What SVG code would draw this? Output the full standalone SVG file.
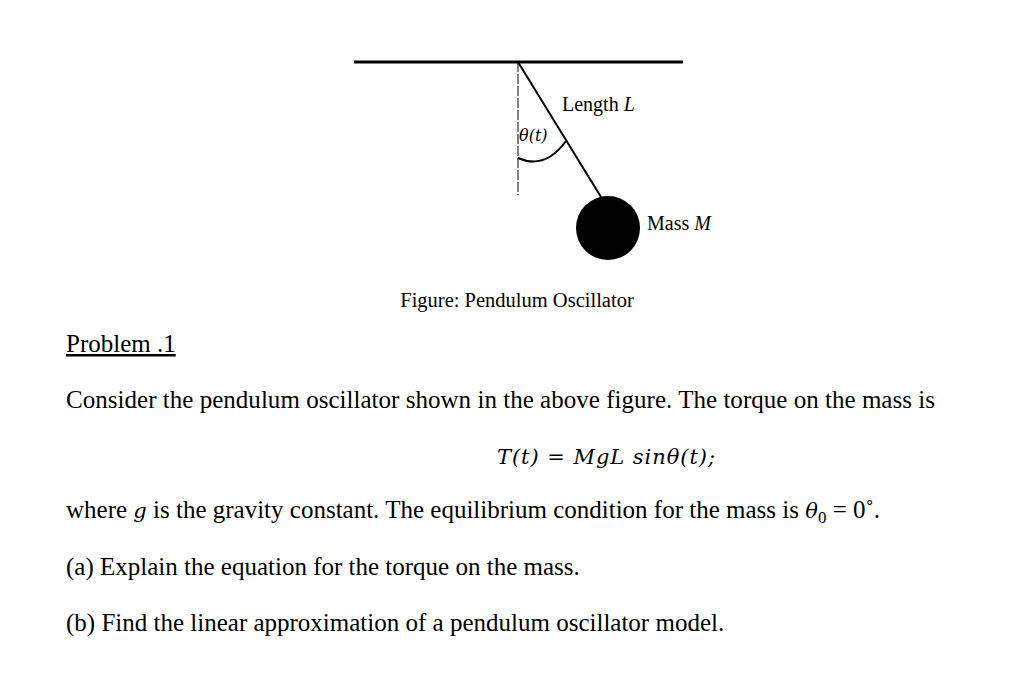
<svg xmlns="http://www.w3.org/2000/svg" width="1024" height="673" viewBox="0 0 1024 673">
<style>
.t{font-family:"Liberation Serif",serif;fill:#000}
.m{font-family:"DejaVu Serif","Liberation Serif",serif;font-style:italic;fill:#000}
.i{font-style:italic}
</style>
<rect width="1024" height="673" fill="#fff"/>
<g id="pendulum">
<line x1="354" y1="62" x2="683" y2="62" stroke="#000" stroke-width="3"/>
<line x1="518" y1="62" x2="518" y2="195" stroke="#000" stroke-width="1" stroke-dasharray="10,2"/>
<line x1="518" y1="62" x2="601" y2="197" stroke="#000" stroke-width="2"/>
<path d="M518,158 Q545,170 566,141" fill="none" stroke="#000" stroke-width="2"/>
<circle cx="608" cy="228" r="32" fill="#000"/>
<text class="m" x="519" y="141" font-size="16">θ(t)</text>
<text class="t" x="562" y="111" font-size="20">Length <tspan class="i">L</tspan></text>
<text class="t" x="647" y="230" font-size="20">Mass <tspan class="i">M</tspan></text>
<text class="t" x="517" y="307" font-size="20.5" text-anchor="middle">Figure: Pendulum Oscillator</text>
</g>
<g id="text">
<text class="t" x="66" y="352" font-size="25" text-decoration="underline">Problem .1</text>
<text class="t" x="66" y="408" font-size="25" textLength="869">Consider the pendulum oscillator shown in the above figure. The torque on the mass is</text>
<text class="m" x="497" y="464" font-size="21" textLength="218">T(t) <tspan font-style="normal">=</tspan> MgL sinθ(t);</text>
<text class="t" x="66" y="518" font-size="25">where <tspan class="m" font-size="21">g</tspan> is the gravity constant. The equilibrium condition for the mass is <tspan class="m" font-size="21">θ</tspan><tspan font-size="17" dy="5">0</tspan><tspan dy="-5"> = 0˚.</tspan></text>
<text class="t" x="66" y="575" font-size="25">(a) Explain the equation for the torque on the mass.</text>
<text class="t" x="66" y="631" font-size="25">(b) Find the linear approximation of a pendulum oscillator model.</text>
</g>
</svg>
